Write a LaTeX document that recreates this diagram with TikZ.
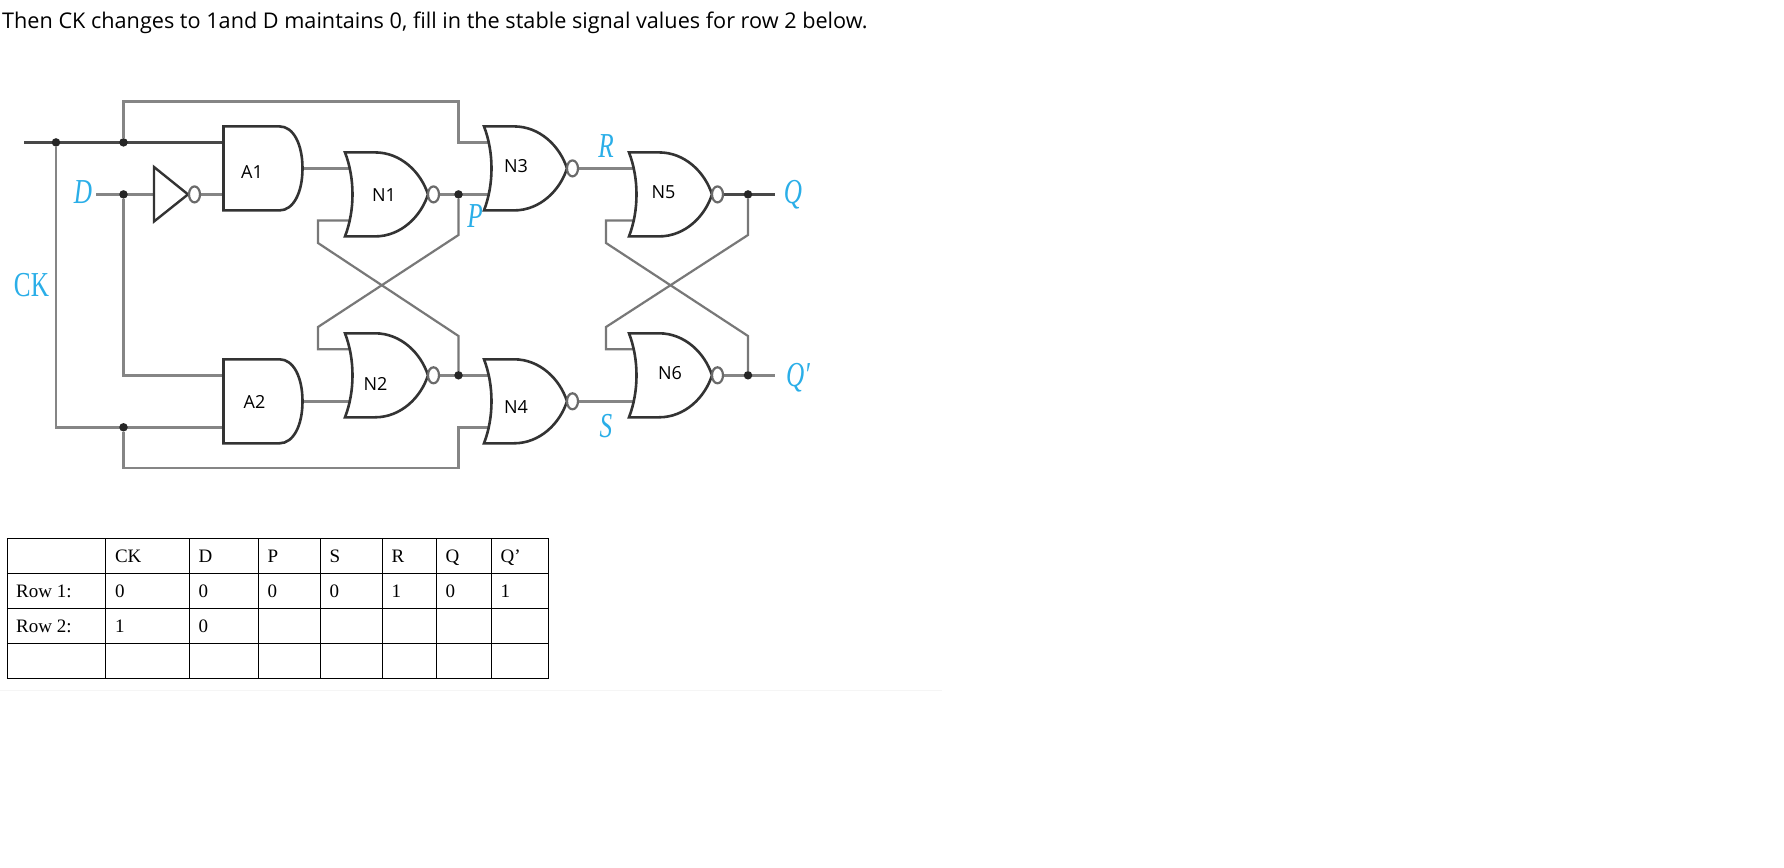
\documentclass[tikz,border=0pt]{standalone}
\usepackage{fontspec}
\setmainfont{Liberation Serif}
\newfontfamily\opensans{Open Sans}
\usetikzlibrary{backgrounds}
\definecolor{wirecol}{HTML}{858585}
\definecolor{gatecol}{HTML}{333333}
\definecolor{labcol}{HTML}{2AAEE8}
\tikzset{
  wire/.style={draw=wirecol,line width=2.8pt,line join=miter},
  crosswire/.style={draw=wirecol!90!black,line width=2.2pt,line join=miter},
  darkwire/.style={draw=gatecol!75!wirecol,line width=2.8pt},
  gateline/.style={draw=gatecol,line width=2.6pt,fill=white,line join=miter},
  bubble/.style={draw=wirecol!80!black,line width=2.2pt,fill=white},
  dotnode/.style={circle,fill=black!85,inner sep=0pt,minimum size=8.5pt},
  gatelabel/.style={font=\opensans\fontsize{18}{20}\selectfont,inner sep=0pt,text=black},
  siglabel/.style={font=\fontsize{35}{35}\selectfont,text=labcol,xscale=.72,inner sep=0pt},
  celltext/.style={font=\fontsize{19}{20}\selectfont,anchor=base west,inner sep=0pt,text=black},
  andg/.pic={
    \draw[gateline] (0,-42) -- (56,-42) .. controls (70,-42) and (79,-24) .. (79,0)
      .. controls (79,24) and (70,42) .. (56,42) -- (0,42) -- cycle;
    \coordinate (-in1) at (0,-26);
    \coordinate (-in2) at (0,26);
    \coordinate (-out) at (79,0);
  },
  norg/.pic={
    \draw[gateline] (0,-42) -- (30,-42) .. controls (56,-42) and (76,-22) .. (83,0)
      .. controls (76,22) and (56,42) .. (30,42) -- (0,42)
      .. controls (10,16) and (10,-16) .. (0,-42) -- cycle;
    \draw[bubble] (88.5,0) ellipse [x radius=5.5,y radius=8];
    \coordinate (-in1) at (4,-26);
    \coordinate (-in2) at (4,26);
    \coordinate (-out) at (93,0);
  },
}
\begin{document}
\begin{tikzpicture}[x=1pt,y=-1pt]
\useasboundingbox (0,0) rectangle (1784,867);
% gates
\pic (a1) at (223.5,168.4) {andg};
\pic (a2) at (223.5,401.3) {andg};
\pic (n1) at (345,194.4) {norg};
\pic (n2) at (345,375.3) {norg};
\pic (n3) at (484,168.4) {norg};
\pic (n4) at (484,401.3) {norg};
\pic (n5) at (629,194.4) {norg};
\pic (n6) at (629,375.3) {norg};
% inverter
\draw[gateline,line width=2.4pt] (154,167) -- (188,194.4) -- (154,221.5) -- cycle;
\draw[bubble] (194.5,194.4) ellipse [x radius=5.5,y radius=8];
\coordinate (invin) at (154,194.4);
\coordinate (invout) at (200,194.4);
% junction dots
\node[dotnode] (ckdot) at (56,142.4) {};
\node[dotnode] (cktop) at (123.5,142.4) {};
\node[dotnode] (ddot) at (123.5,194.4) {};
\node[dotnode] (ckbot) at (123.5,427.3) {};
\node[dotnode] (pdot) at (458.5,194.4) {};
\node[dotnode] (sdot) at (458.5,375.3) {};
\node[dotnode] (qdot) at (748,194.4) {};
\node[dotnode] (qpdot) at (748,375.3) {};
% free ends and corners
\coordinate (ckstart) at (24,142.4);
\coordinate (dstart) at (96,194.4);
\coordinate (qend) at (775,194.4);
\coordinate (qpend) at (775,375.3);
\coordinate (topleft) at (123.5,101.7);
\coordinate (topright) at (458.5,101.7);
\coordinate (botleft) at (123.5,468);
\coordinate (botright) at (458.5,468);
\begin{scope}[on background layer]
\fill[white] (0,0) rectangle (1784,867);
% wires
\draw[darkwire] (ckstart) -- (a1-in1);
\draw[wire] (ckdot) -- (ckdot |- a2-in2) -- (a2-in2);
\draw[wire] (cktop) -- (topleft) -- (topright) -- (topright |- n3-in1) -- (n3-in1);
\draw[wire] (ckbot) -- (botleft) -- (botright) -- (botright |- n4-in2) -- (n4-in2);
\draw[wire] (dstart) -- (invin);
\draw[wire] (invout) -- (a1-in2);
\draw[wire] (ddot) -- (ddot |- a2-in1) -- (a2-in1);
\draw[wire] (a1-out) -- (n1-in1);
\draw[wire] (a2-out) -- (n2-in2);
\draw[wire] (n1-out) -- (n3-in2);
\draw[wire] (n2-out) -- (n4-in1);
\draw[wire] (n3-out) -- (n5-in1);
\draw[wire] (n4-out) -- (n6-in2);
\draw[darkwire] (n5-out) -- (qend);
\draw[wire] (n6-out) -- (qpend);
% cross-coupling
\draw[crosswire] (n1-in2) -- (318,220.4) -- (318,243) -- (458.5,336) -- (sdot);
\draw[crosswire] (n2-in1) -- (318,349.3) -- (318,327) -- (458.5,235) -- (pdot);
\draw[crosswire] (n5-in2) -- (606,220.4) -- (606,243) -- (748,336) -- (qpdot);
\draw[crosswire] (n6-in1) -- (606,349.3) -- (606,327) -- (748,235) -- (qdot);
% faint page rule
\draw[black!4,line width=1pt] (0,690) -- (942,690);
\end{scope}
% gate labels
\node[gatelabel] (la1) at (252,172) {A1};
\node[gatelabel] (la2) at (254.5,402) {A2};
\node[gatelabel] (ln1) at (384,195) {N1};
\node[gatelabel] (ln2) at (375.5,384) {N2};
\node[gatelabel] (ln3) at (516,166) {N3};
\node[gatelabel] (ln4) at (516,407) {N4};
\node[gatelabel] (ln5) at (663.5,192) {N5};
\node[gatelabel] (ln6) at (670,373) {N6};
% signal labels
\node[siglabel] (lck) at (31.5,285.5) {CK};
\node[siglabel] (ld) at (83,192) {\itshape D};
\node[siglabel] (lr) at (606,146) {\itshape R};
\node[siglabel] (lp) at (475,216) {\itshape P};
\node[siglabel] (ls) at (606,426.5) {\itshape S};
\node[siglabel] (lq) at (793,195) {\itshape Q};
\node[siglabel] (lqp) at (798,378) {\itshape Q′};
% title
\node[font=\opensans\fontsize{21.65}{26}\selectfont,anchor=base west,inner sep=0pt,text=black] (title) at (2,29)
  {Then CK changes to 1and D maintains 0, fill in the stable signal values for row 2 below.};
% table
\foreach \x in {7.5,105.5,189.5,258.5,320.5,382.5,436.5,491.5,548.5}
  \draw[black,line width=1.4pt] (\x,538.5) -- (\x,678.5);
\foreach \y in {538.5,573.5,608.5,643.5,678.5}
  \draw[black,line width=1.4pt] (6.8,\y) -- (549.2,\y);
\node[celltext] (h1) at (114.8,562.7) {CK};
\node[celltext] (h2) at (198.5,562.7) {D};
\node[celltext] (h3) at (267.5,562.7) {P};
\node[celltext] (h4) at (329.5,562.7) {S};
\node[celltext] (h5) at (391.5,562.7) {R};
\node[celltext] (h6) at (445.5,562.7) {Q};
\node[celltext] (h7) at (500.5,562.7) {Q’};
\node[celltext] (r10) at (16,597.7) {Row 1:};
\node[celltext] (r11) at (114.8,597.7) {0};
\node[celltext] (r12) at (198.5,597.7) {0};
\node[celltext] (r13) at (267.5,597.7) {0};
\node[celltext] (r14) at (329.5,597.7) {0};
\node[celltext] (r15) at (391.5,597.7) {1};
\node[celltext] (r16) at (445.5,597.7) {0};
\node[celltext] (r17) at (500.5,597.7) {1};
\node[celltext] (r20) at (16,632.7) {Row 2:};
\node[celltext] (r21) at (114.8,632.7) {1};
\node[celltext] (r22) at (198.5,632.7) {0};
\end{tikzpicture}
\end{document}
